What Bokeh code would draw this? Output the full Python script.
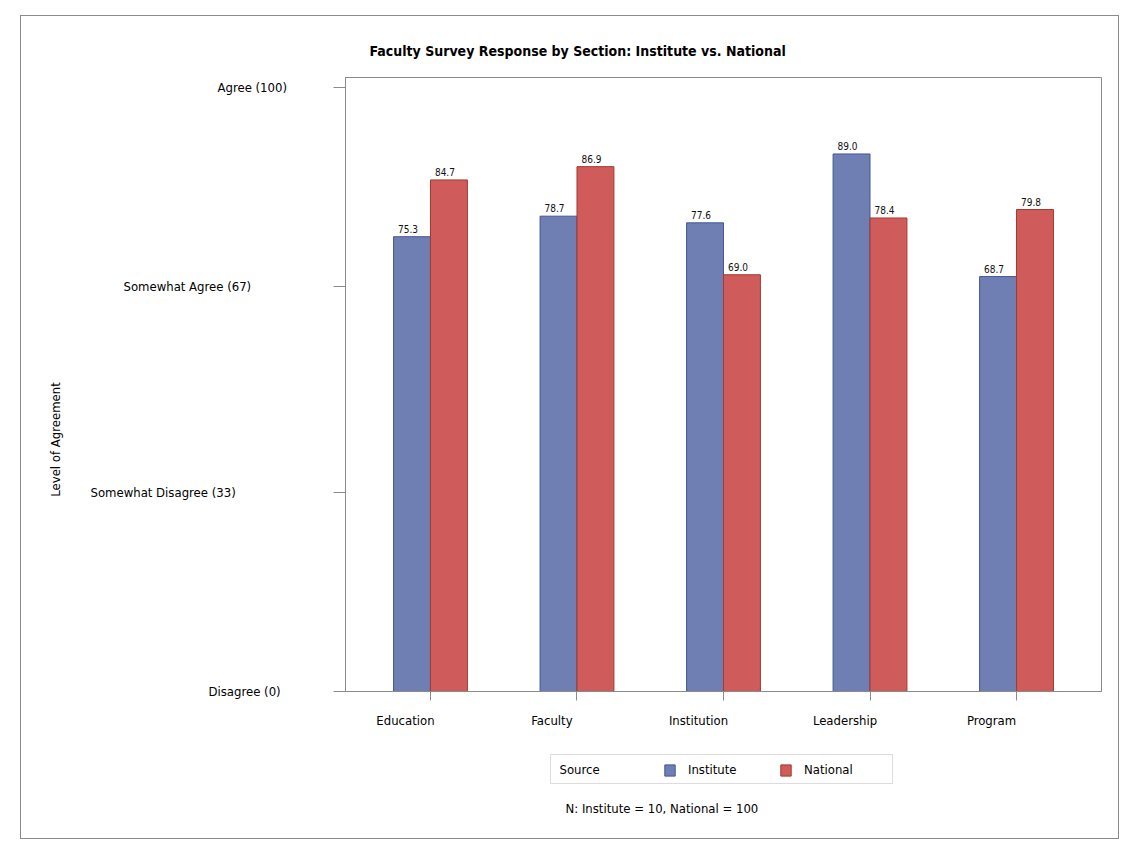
import math
from bokeh.plotting import figure
from bokeh.layouts import column, row
from bokeh.models import (ColumnDataSource, FactorRange, Range1d, FixedTicker, Label, LabelSet,
                          Legend, LegendItem, BoxAnnotation)
from bokeh.transform import dodge
from bokeh.core.properties import value
from bokeh.embed import file_html
from bokeh.resources import INLINE

# ---- data ----
sections = ["Education", "Faculty", "Institution", "Leadership", "Program"]
institute = [75.3, 78.7, 77.6, 89.0, 68.7]
national = [84.7, 86.9, 69.0, 78.4, 79.8]
series_names = ["Institute", "National"]
y_ticks = [0, 33, 67, 100]
y_tick_labels = ["Disagree (0)", "Somewhat Disagree (33)", "Somewhat Agree (67)", "Agree (100)"]
title_text = "Faculty Survey Response by Section: Institute vs. National"
y_title = "Level of Agreement"
legend_title = "Source"
footnote = "N: Institute = 10, National = 100"

# ---- style / geometry (page pixels) ----
FONT = "'DejaVu Sans Condensed', 'Liberation Sans Narrow', 'Liberation Sans', sans-serif"
GRAY = "#8a8a8a"
BLUE, BLUE_EDGE = "#6F7EB3", "#445694"
RED, RED_EDGE = "#D05B5B", "#A23A2E"
OX, OY = 21, 16                      # page position of the content origin
FRAME_L, FRAME_R, FRAME_T, FRAME_B = 345, 1101, 77, 691
RIGHT_EDGE, BOTTOM_EDGE = 1118, 838
MAIN_LB, MAIN_BB = 24, 16            # main figure left / bottom borders
Y_END = 101.66

LEFT_W = FRAME_L - MAIN_LB - OX
FW, FH = FRAME_R - FRAME_L, FRAME_B - FRAME_T
TOP_H = FRAME_B + MAIN_BB - OY
BOT_TOP = FRAME_B + MAIN_BB          # page y of bottom strip
BOT_H = BOTTOM_EDGE - BOT_TOP

# ---------------- main chart ----------------
p = figure(frame_width=FW, frame_height=FH,
           x_range=FactorRange(factors=sections, range_padding=0.032),
           y_range=Range1d(0, Y_END),
           output_backend="svg", toolbar_location=None,
           min_border_left=MAIN_LB, min_border_right=RIGHT_EDGE - FRAME_R,
           min_border_top=FRAME_T - OY, min_border_bottom=MAIN_BB)
p.background_fill_color = "white"
p.border_fill_color = "white"
p.outline_line_color = GRAY
p.xgrid.visible = False
p.ygrid.visible = False

p.title.text = title_text
p.title.align = "left"
p.title.offset = 24
p.title.text_font = FONT
p.title.text_font_size = "14px"
p.title.text_font_style = "bold"
p.title.text_color = "#000000"
p.title.standoff = 37

for ax in (p.xaxis, p.yaxis):
    ax.axis_line_color = GRAY
    ax.major_tick_line_color = GRAY
    ax.minor_tick_line_color = None
    ax.major_tick_in = 0
    ax.major_label_standoff = 0
    ax.major_label_text_font_size = "1px"
    ax.major_label_text_color = None
p.xaxis.major_tick_out = 9
p.xaxis.major_label_overrides = {s: "" for s in sections}
p.yaxis.major_tick_out = 12
p.yaxis.ticker = FixedTicker(ticks=y_ticks)
p.yaxis.major_label_overrides = {t: "" for t in y_ticks}

src = ColumnDataSource(dict(
    section=sections,
    institute=institute,
    national=national,
    inst_lbl=[f"{v:.1f}" for v in institute],
    nat_lbl=[f"{v:.1f}" for v in national],
))

BW = 0.252
r1 = p.vbar(x=dodge("section", -BW / 2, range=p.x_range), top="institute", width=BW,
            source=src, fill_color=BLUE, line_color=BLUE_EDGE, line_width=1)
r2 = p.vbar(x=dodge("section", BW / 2, range=p.x_range), top="national", width=BW,
            source=src, fill_color=RED, line_color=RED_EDGE, line_width=1)

for col, lbl, off in (("institute", "inst_lbl", -BW / 2), ("national", "nat_lbl", BW / 2)):
    p.add_layout(LabelSet(x=dodge("section", off, range=p.x_range), y=col, text=lbl, source=src,
                          x_offset=-14, y_offset=4, text_align="left", text_baseline="bottom",
                          text_font=value(FONT), text_font_size="10px", text_color="#111111"))

# ---------------- left strip: y tick labels and y title (shares the y scale) ----------------
left = figure(width=LEFT_W, height=TOP_H, x_range=Range1d(0, 1), y_range=p.y_range,
              output_backend="svg", toolbar_location=None, min_border=0,
              x_axis_location=None, y_axis_location=None)
left.outline_line_color = None
left.xgrid.visible = False
left.ygrid.visible = False
left.background_fill_color = "white"
left.border_fill_color = "white"

ytick_left_page = [208, 90, 123, 217]
for t, lab, xl in zip(y_ticks, y_tick_labels, ytick_left_page):
    if t == 0:
        # sits on the frame's bottom edge: drawn in a side panel so it is not clipped
        left.add_layout(Label(x=xl - OX, x_units="canvas", y=FRAME_B - OY, y_units="canvas",
                              text=lab, text_align="left", text_baseline="middle",
                              text_font=FONT, text_font_size="13px", text_color="#000000"),
                        "below")
    else:
        left.add_layout(Label(x=xl - OX, x_units="canvas", y=t, y_units="data", text=lab,
                              text_align="left", text_baseline="middle",
                              text_font=FONT, text_font_size="13px", text_color="#000000"))
left.add_layout(Label(x=55 - OX, x_units="canvas", y=439 - OY, y_units="canvas", text=y_title,
                      angle=math.pi / 2, text_align="center", text_baseline="middle",
                      text_font=FONT, text_font_size="13px", text_color="#000000"))

# ---------------- bottom strip: category labels, legend, footnote ----------------
bot = figure(width=RIGHT_EDGE - OX, height=BOT_H, x_range=p.x_range, y_range=Range1d(0, BOT_H),
             output_backend="svg", toolbar_location=None,
             min_border_left=FRAME_L - OX, min_border_right=RIGHT_EDGE - FRAME_R,
             min_border_top=0, min_border_bottom=0,
             x_axis_location=None, y_axis_location=None)
bot.outline_line_color = None
bot.xgrid.visible = False
bot.ygrid.visible = False
bot.background_fill_color = "white"
bot.border_fill_color = "white"

bot.add_layout(LabelSet(x="section", y=BOTTOM_EDGE - 720, text="section", source=src,
                        x_offset=-25, text_align="center", text_baseline="middle",
                        text_font=value(FONT), text_font_size="13px", text_color="#000000"))

# legend swatches: one-row proxies with no drawable height, styled like the bars
nan = float("nan")
g1 = bot.vbar(x=[sections[0]], top=[nan], width=BW, fill_color=BLUE, line_color=BLUE_EDGE,
              line_width=1)
g2 = bot.vbar(x=[sections[0]], top=[nan], width=BW, fill_color=RED, line_color=RED_EDGE,
              line_width=1)
legend = Legend(items=[LegendItem(label=series_names[0], renderers=[g1]),
                       LegendItem(label=series_names[1], renderers=[g2])],
                orientation="horizontal", padding=0, margin=0, spacing=0,
                glyph_width=13, glyph_height=14, label_standoff=12, label_width=91,
                label_height=14, border_line_alpha=0, background_fill_alpha=0,
                label_text_font=FONT, label_text_font_size="13px", label_text_color="#000000",
                location=(663 - FRAME_L, BOTTOM_EDGE - 777))
bot.add_layout(legend)
bot.add_layout(BoxAnnotation(left=550 - OX, right=892 - OX, top=754 - BOT_TOP, bottom=783 - BOT_TOP,
                             left_units="canvas", right_units="canvas",
                             top_units="canvas", bottom_units="canvas",
                             fill_alpha=0, line_color=GRAY, line_width=1, level="overlay"))
bot.add_layout(Label(x=559 - OX, x_units="canvas", y=769 - BOT_TOP, y_units="canvas",
                     text=legend_title, text_align="left", text_baseline="middle",
                     text_font=FONT, text_font_size="13px", text_color="#000000"))
bot.add_layout(Label(x=565 - OX, x_units="canvas", y=808 - BOT_TOP, y_units="canvas",
                     text=footnote, text_align="left", text_baseline="middle",
                     text_font=FONT, text_font_size="13px", text_color="#000000"))

layout = column(row(left, p, spacing=0), bot, spacing=0)
layout.margin = (15, 0, 0, 20)
layout.styles = {"border": "1px solid " + GRAY, "background-color": "white"}

open("out.html", "w").write(file_html(layout, INLINE))
